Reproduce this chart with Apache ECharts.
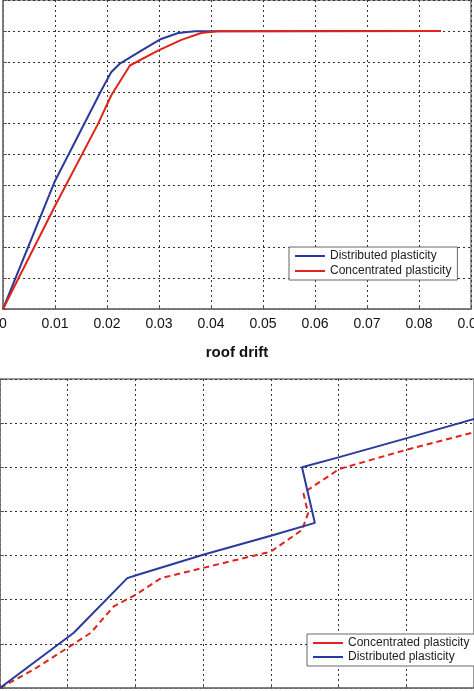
<!DOCTYPE html>
<html><head><meta charset="utf-8">
<script src="https://cdn.jsdelivr.net/npm/echarts@6/dist/echarts.min.js"></script>
<style>html,body{margin:0;padding:0;background:#fff}#c{width:474px;height:691px}</style>
</head><body><div id="c"></div>
<script>
// Top: pushover curves (roof drift vs normalized base shear)
const topDistributed = [[0,0],[0.0099,4.11],[0.0189,7.07],[0.0208,7.66],[0.0224,7.93],[0.0266,8.36],[0.0304,8.74],[0.0337,8.93],[0.0369,8.99],[0.0842,9.0]];
const topConcentrated = [[0,0],[0.0099,3.3],[0.0183,6.0],[0.0208,6.91],[0.0244,7.88],[0.0298,8.36],[0.0343,8.71],[0.0381,8.93],[0.0413,8.99],[0.0842,9.0]];
const topXTicks = ['0','0.01','0.02','0.03','0.04','0.05','0.06','0.07','0.08','0.09'];
// Bottom: profile curves
const botConcentrated = [[0,0],[0.5,0.42],[1.09,1.0],[1.34,1.25],[1.68,1.85],[2.0,2.11],[2.38,2.49],[3.0,2.72],[4.0,3.09],[4.46,3.58],[4.55,3.96],[4.48,4.42],[5.01,4.96],[6.01,5.4],[7.04,5.81]];
const botDistributed = [[0,0],[1.09,1.25],[1.88,2.49],[2.0,2.55],[3.0,3.02],[4.0,3.45],[4.65,3.74],[4.46,5.0],[5.01,5.23],[6.01,5.66],[7.04,6.11]];

const BLUE='#2b3a9e', RED='#e0241b';
const split={show:true,lineStyle:{type:[2,3],color:'#333',width:1}};
const axLine={show:true,lineStyle:{color:'#777',width:1.5}};
const chart=echarts.init(document.getElementById('c'));
chart.setOption({
  animation:false,
  grid:[
    {left:3,top:0,width:468,height:309,show:true,borderColor:'#777',borderWidth:1.5,outerBoundsMode:'none',containLabel:false},
    {left:0,top:379,width:474,height:309,show:true,borderColor:'#777',borderWidth:1.5,outerBoundsMode:'none',containLabel:false}
  ],
  legend:[
    {data:['Distributed plasticity','Concentrated plasticity'],left:289,top:247,orient:'vertical',itemGap:3,
     itemWidth:30,itemHeight:12,itemStyle:{opacity:0},backgroundColor:'#fff',borderColor:'#666',borderWidth:1,padding:[3,6,3,5],
     textStyle:{fontFamily:'Liberation Sans',fontSize:12,color:'#222'}},
    {data:['Concentrated plasticity','Distributed plasticity'],left:307,top:634,orient:'vertical',itemGap:2,
     itemWidth:30,itemHeight:12,itemStyle:{opacity:0},backgroundColor:'#fff',borderColor:'#666',borderWidth:1,padding:[3,6,3,5],
     textStyle:{fontFamily:'Liberation Sans',fontSize:12,color:'#222'}}
  ],
  xAxis:[
    {gridIndex:0,type:'value',min:0,max:0.09,interval:0.01,axisLine:axLine,splitLine:split,
     axisTick:{show:true,inside:true,length:4,lineStyle:{color:'#555'}},
     axisLabel:{fontFamily:'Liberation Sans',fontSize:14,color:'#111',margin:8,showMaxLabel:true,
       formatter:v=>topXTicks[Math.round(v*100)]},
     name:'roof drift',nameLocation:'middle',nameGap:36,
     nameTextStyle:{fontFamily:'Liberation Sans',fontSize:15,fontWeight:'bold',color:'#111'}},
    {gridIndex:1,type:'value',min:0,max:7,interval:1,axisLine:axLine,splitLine:split,
     axisTick:{show:true,inside:true,length:4,lineStyle:{color:'#555'}},axisLabel:{show:false}}
  ],
  yAxis:[
    {gridIndex:0,type:'value',min:0,max:10,interval:1,axisLine:axLine,splitLine:split,
     axisTick:{show:true,inside:true,length:4,lineStyle:{color:'#555'}},axisLabel:{show:false}},
    {gridIndex:1,type:'value',min:0,max:7,interval:1,axisLine:axLine,splitLine:split,
     axisTick:{show:true,inside:true,length:4,lineStyle:{color:'#555'}},axisLabel:{show:false}}
  ],
  series:[
    {name:'Distributed plasticity',type:'line',xAxisIndex:0,yAxisIndex:0,data:topDistributed,symbol:'none',itemStyle:{color:BLUE},lineStyle:{color:BLUE,width:2}},
    {name:'Concentrated plasticity',type:'line',xAxisIndex:0,yAxisIndex:0,data:topConcentrated,symbol:'none',itemStyle:{color:RED},lineStyle:{color:RED,width:2}},
    {name:'Concentrated plasticity',type:'line',xAxisIndex:1,yAxisIndex:1,data:botConcentrated,symbol:'none',itemStyle:{color:RED},lineStyle:{color:RED,width:2,type:[6,4]}},
    {name:'Distributed plasticity',type:'line',xAxisIndex:1,yAxisIndex:1,data:botDistributed,symbol:'none',itemStyle:{color:BLUE},lineStyle:{color:BLUE,width:2}}
  ]
});
</script></body></html>
